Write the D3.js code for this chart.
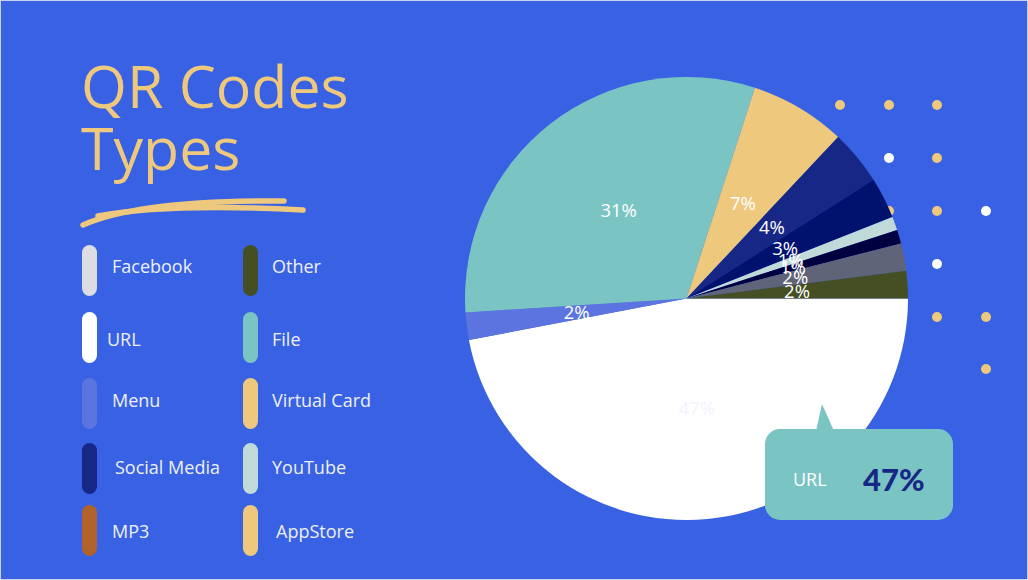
<!DOCTYPE html>
<html><head><meta charset="utf-8">
<script src="https://cdn.jsdelivr.net/npm/d3@7"></script>
<style>
html,body{margin:0;padding:0;background:#3862e3;}
svg{display:block;}
</style></head>
<body>
<svg id="c" width="1028" height="580"></svg>
<script>
// ---- data ----
const sliceNames = ["URL","Menu","File","Virtual Card","Social Media","Facebook","YouTube","MP3","AppStore","Other"];
const sliceValues = [47,2,31,7,4,3,1,1,2,2];
const sliceColors = ["#ffffff","#5b74e0","#7bc4c4","#edc87d","#172785","#00126e","#c0dada","#000040","#5f6478","#454f23"];
const legendNames = ["Facebook","URL","Menu","Social Media","MP3","Other","File","Virtual Card","YouTube","AppStore"];
const legendColors = ["#dcdde3","#ffffff","#5b74e0","#172785","#b0622a","#454f23","#7bc4c4","#edc87d","#c0dada","#edc87d"];
const titleLines = ["QR Codes","Types"];
const tooltipLabel = "URL";
const tooltipValue = "47%";

const svg = d3.select("#c");
const W=1028,H=580;
svg.append("rect").attr("x",0.5).attr("y",0.5).attr("width",W-1).attr("height",H-1)
  .attr("fill","#3862e3").attr("stroke","#c9d3ee").attr("stroke-width",1);

// decorative dots
const dots = [
  [840,105,"#edc87d"],[889,105,"#edc87d"],[937,105,"#edc87d"],
  [889,158,"#ffffff"],[937,158,"#edc87d"],
  [889,211,"#edc87d"],[937,211,"#edc87d"],[986,211,"#ffffff"],
  [937,264,"#ffffff"],
  [937,317,"#edc87d"],[986,317,"#edc87d"],
  [986,369,"#edc87d"]
];
svg.append("g").selectAll("circle").data(dots).join("circle")
  .attr("cx",d=>d[0]).attr("cy",d=>d[1]).attr("r",5).attr("fill",d=>d[2]);

// title
const title = svg.append("g");
titleLines.forEach((t,i)=>{
  title.append("text").attr("x",81).attr("y",108+i*62).text(t)
   .attr("font-family","'Open Sans', 'Noto Sans', sans-serif").attr("font-size",59)
   .attr("fill","#edc87d");
});
title.append("path").attr("d","M83,225 Q140,200 284,201").attr("fill","none")
  .attr("stroke","#edc87d").attr("stroke-width",5.5).attr("stroke-linecap","round");
title.append("path").attr("d","M98,216 Q170,203 303,210").attr("fill","none")
  .attr("stroke","#edc87d").attr("stroke-width",5.5).attr("stroke-linecap","round");

// legend
const rowY = [245,312,378,443,505];
const textY = [267,340,401,468,532];
const textX = [[112,107,112,115,112],[272,272,272,272,276]];
const leg = svg.append("g");
legendNames.forEach((n,i)=>{
  const col = Math.floor(i/5), row = i%5;
  const px = col===0?82:243;
  leg.append("rect").attr("x",px).attr("y",rowY[row]).attr("width",15).attr("height",51)
    .attr("rx",7.5).attr("fill",legendColors[i]);
  leg.append("text").attr("x",textX[col][row]).attr("y",textY[row]).attr("dy","0.35em")
    .text(n).attr("font-family","'Open Sans', 'Noto Sans', sans-serif").attr("font-size",18)
    .attr("fill","#eef0f8");
});

// pie
const cx=686.5, cy=298.5, R=221.5;
const pie = d3.pie().sort(null).value(d=>d).startAngle(Math.PI/2).endAngle(Math.PI/2+2*Math.PI);
const arcs = pie(sliceValues);
const arc = d3.arc().innerRadius(0).outerRadius(R);
const labelArc = d3.arc().innerRadius(R*0.5).outerRadius(R*0.5);
const g = svg.append("g").attr("transform",`translate(${cx},${cy})`);
g.selectAll("path").data(arcs).join("path").attr("d",arc).attr("fill",(d,i)=>sliceColors[i]);
g.selectAll("text").data(arcs).join("text")
  .attr("transform",d=>`translate(${labelArc.centroid(d)})`)
  .attr("text-anchor","middle").attr("dy","0.35em")
  .attr("font-family","'Open Sans', 'Noto Sans', sans-serif").attr("font-size",18.5)
  .attr("fill",(d,i)=>i===0?"#f2f4ff":"#ffffff")
  .text(d=>d.value+"%");

// tooltip
const tt = svg.append("g");
tt.append("path").attr("d","M816,431 L822,404 L834,431 Z").attr("fill","#7bc4c4");
tt.append("rect").attr("x",765).attr("y",429).attr("width",188).attr("height",91).attr("rx",15).attr("fill","#7bc4c4");
tt.append("text").attr("x",793).attr("y",480).attr("dy","0.35em").text(tooltipLabel)
  .attr("font-family","'Open Sans', 'Noto Sans', sans-serif").attr("font-size",18).attr("fill","#ffffff");
tt.append("text").attr("x",863).attr("y",480).attr("dy","0.35em").text(tooltipValue)
  .attr("font-family","Lato, 'Open Sans', sans-serif").attr("font-weight",900).attr("font-size",31).attr("fill","#172785");
</script>
</body></html>
